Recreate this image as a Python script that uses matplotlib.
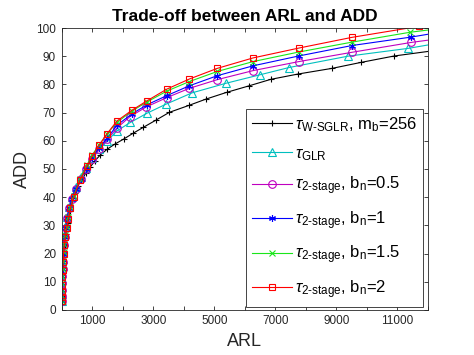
import matplotlib
matplotlib.use("Agg")
import matplotlib.pyplot as plt

plt.rcParams['font.family'] = ['Liberation Sans', 'DejaVu Sans']
plt.rcParams['mathtext.fontset'] = 'custom'
plt.rcParams['mathtext.rm'] = 'Liberation Sans'
plt.rcParams['mathtext.it'] = 'Liberation Sans:italic'

# ARL / ADD curves (last point is the line end at the right border, no marker)
arl_wsglr = [5, 10, 18, 28, 42, 60, 85, 115, 155, 205, 270, 345, 430, 530, 650, 790,
             945, 1090, 1270, 1490, 1740, 2030, 2330, 2680, 3100, 3530, 4180, 4730,
             5410, 6140, 6850, 7750, 8860, 9800, 10900, 12000]
add_wsglr = [3, 5, 7.5, 10, 13, 16, 19.5, 23, 27, 31, 35, 38.5, 41.5, 44, 46, 48.5,
             50.8, 52.9, 55, 57, 58.8, 60.6, 62.6, 64.8, 67.4, 70.1, 72.6, 74.8,
             77.2, 79.5, 81.8, 83.7, 85.7, 87.8, 90.1, 91.7]

arl_glr = [3, 6, 10, 15, 22, 30, 40, 55, 75, 100, 135, 180, 250, 340, 460, 620, 800,
           1000, 1230, 1500, 1810, 2250, 2800, 3420, 4270, 5380, 6490, 7450, 9370,
           11360, 12000]
add_glr = [3, 5.5, 8, 10.5, 13, 15.5, 18, 21, 24, 27, 30, 33, 36.5, 40, 43.5, 47,
           50.5, 54, 57, 60, 63.5, 66.5, 69.8, 73, 77, 80.4, 83.4, 86, 90, 92.8, 94]

arl_b05 = [3, 6, 10, 15, 22, 30, 40, 55, 75, 100, 135, 180, 250, 340, 460, 620, 800,
           1000, 1230, 1500, 1810, 2230, 2770, 3440, 4180, 5100, 6270, 7770, 9510,
           11450, 12000]
add_b05 = [3, 5, 7, 9.5, 12, 14.5, 17, 20, 23, 26, 29, 32.5, 36, 39.5, 43, 46.5,
           50, 53.5, 57, 60.5, 64.5, 68.5, 72, 75.3, 78.6, 81.7, 84.9, 88.1, 91.4,
           94.9, 95.7]

arl_b1 = [3, 6, 10, 15, 22, 30, 40, 55, 75, 100, 135, 180, 250, 340, 460, 620, 800,
          1000, 1230, 1500, 1810, 2310, 2800, 3440, 4180, 5100, 6270, 7770, 9510,
          11450, 12000]
add_b1 = [3, 5, 7, 9.5, 12, 14.5, 17, 20, 23, 26, 29, 32.5, 36, 39.5, 43, 46.5,
          50, 54, 57.5, 61, 65.5, 69.6, 72.8, 76, 79.5, 83.1, 86.6, 90.1, 93.8,
          96.8, 97.8]

arl_b15 = [3, 6, 10, 16, 24, 34, 47, 65, 90, 125, 170, 225, 290, 400, 600, 835, 1000,
           1230, 1490, 1810, 2310, 2800, 3440, 4180, 5100, 6270, 7770, 9510, 11410,
           12000]
add_b15 = [3, 5, 7, 9.5, 12, 14.5, 17.5, 20.5, 23.5, 26.5, 29.5, 33, 36.5, 40.5, 46.5,
           51.5, 55, 58.5, 62.5, 66.5, 70.6, 73.8, 77.6, 81, 84.6, 88.1, 91.5, 95,
           98.5, 99.3]

arl_b2 = [3, 6, 10, 16, 24, 34, 47, 65, 90, 125, 170, 225, 290, 400, 600, 835, 1000,
          1230, 1490, 1810, 2310, 2800, 3440, 4180, 5100, 6270, 7770, 9510, 11700,
          12000]
add_b2 = [3, 4.5, 6.5, 9, 11.5, 14, 17, 20, 23, 26, 29, 32.3, 36, 40, 46, 51, 54.5,
          58.5, 62.5, 67, 70.9, 74.2, 78.3, 81.9, 85.7, 89.4, 92.9, 96.7, 100.6, 101]

labels = [r'$\tau_{\mathrm{W\text{-}SGLR}}$, m$_\mathrm{b}$=256',
          r'$\tau_{\mathrm{GLR}}$',
          r'$\tau_{\mathrm{2\text{-}stage}}$, b$_\mathrm{n}$=0.5',
          r'$\tau_{\mathrm{2\text{-}stage}}$, b$_\mathrm{n}$=1',
          r'$\tau_{\mathrm{2\text{-}stage}}$, b$_\mathrm{n}$=1.5',
          r'$\tau_{\mathrm{2\text{-}stage}}$, b$_\mathrm{n}$=2']

asterisk = (6, 2, 0)
series = [(arl_wsglr, add_wsglr, 'k', '+', 5),
          (arl_glr, add_glr, 'c', '^', 5.5),
          (arl_b05, add_b05, 'm', 'o', 5.5),
          (arl_b1, add_b1, 'b', asterisk, 5),
          (arl_b15, add_b15, (0.1, 0.9, 0.1), 'x', 4.5),
          (arl_b2, add_b2, 'r', 's', 5)]

fig = plt.figure(figsize=(4.74, 3.55), dpi=100)
ax = fig.add_axes([0.13, 0.127, 0.773, 0.794])

for (x, y, c, m, ms), lab in zip(series, labels):
    ax.plot(x, y, color=c, marker=m, markersize=ms, linewidth=0.8,
            markerfacecolor='none', markeredgewidth=0.8,
            markevery=list(range(len(x) - 1)), label=lab)

ax.set_xlim(0, 12000)
ax.set_ylim(0, 100)
ax.set_xticks(range(0, 12001, 1000))
ax.set_xticklabels(['' if (v // 1000) % 2 == 0 else str(v) for v in range(0, 12001, 1000)])
ax.set_yticks(range(0, 101, 10))
ax.tick_params(direction='in', top=True, right=True, length=3, width=0.6,
               labelsize=8.5, colors='#262626', pad=4)
for s in ax.spines.values():
    s.set_color('#262626')
    s.set_linewidth(0.6)

ax.set_xlabel('ARL', fontsize=13, color='#262626')
ax.set_ylabel('ADD', fontsize=13, color='#262626')
ax.set_title('Trade-off between ARL and ADD', fontsize=12.5, fontweight='bold', pad=5)

leg = ax.legend(loc='lower right', bbox_to_anchor=(0.986, 0.011), borderaxespad=0,
                fontsize=12, handlelength=2.4, handletextpad=0.2, labelspacing=0.72,
                fancybox=False, edgecolor='#262626', framealpha=1, borderpad=0.35)
leg.get_frame().set_linewidth(0.6)

fig.savefig('out.png', dpi=100)
